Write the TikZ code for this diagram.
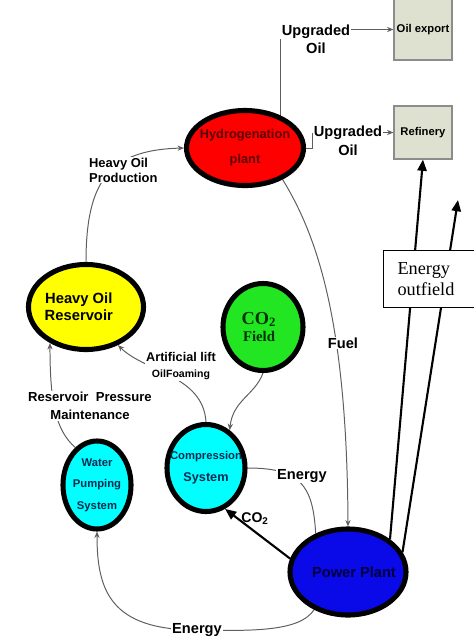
\documentclass[tikz,border=0pt]{standalone}
\usepackage{fontspec}
\setmainfont{Liberation Serif}
\setsansfont{Liberation Sans}
\usetikzlibrary{shapes.geometric}
\usetikzlibrary{arrows.meta}
\usetikzlibrary{backgrounds}
\definecolor{linkGray}{HTML}{5E5E5E}
\definecolor{boxFill}{HTML}{DEE1CF}
\definecolor{boxLine}{HTML}{8C8C8C}
\definecolor{hydRed}{HTML}{FF0000}
\definecolor{resYellow}{HTML}{FFFF00}
\definecolor{fieldGreen}{HTML}{22E622}
\definecolor{sysCyan}{HTML}{00FFFF}
\definecolor{plantBlue}{HTML}{0A0AE8}
\definecolor{hydText}{HTML}{5C0000}
\definecolor{fieldText}{HTML}{003300}
\definecolor{sysText}{HTML}{0A2A50}
\definecolor{plantText}{HTML}{00003C}

\begin{document}
\begin{tikzpicture}[%%
  x=0.025cm,y=-0.025cm,%%
  plantStyle/.style={ellipse,draw=black,line width=3.6pt,inner sep=0pt},%%
  inStyle/.style={align=center,inner sep=0pt},%%
  boxStyle/.style={rectangle,draw=boxLine,fill=boxFill,line width=0.8pt,inner sep=0pt,%%
    font=\fontsize{8}{9.6}\sffamily\bfseries},%%
  tagStyle/.style={fill=white,inner sep=0.6pt,align=center},%%
  flowStyle/.style={draw=linkGray,line width=0.7pt},%%
  flowArrow/.style={flowStyle,-{Stealth[length=1.6mm,width=1.3mm]}},%%
  heavyArrow/.style={draw=black,line width=1.5pt,-{Triangle[length=2.8mm,width=2.3mm]}},%%
]
%%
\useasboundingbox (0,0) rectangle (474,640);
%% The plants and fields.
\node[plantStyle,fill=hydRed,minimum width=2.925cm,minimum height=1.875cm,
  label={[inStyle,text=hydText,font=\fontsize{9.1}{17.8}\sffamily\bfseries]center:Hydrogenation\\plant}]
  (hyd) at (245,148) {};
\node[plantStyle,fill=resYellow,minimum width=2.875cm,minimum height=2.125cm,
  label={[inStyle,xshift=-0.18cm,font=\fontsize{10.5}{12.2}\sffamily\bfseries]center:Heavy Oil\\Reservoir}]
  (res) at (86,307) {};
\node[plantStyle,fill=fieldGreen,minimum width=2cm,minimum height=2.175cm,
  label={[inStyle,xshift=-0.1cm,text=fieldText,font=\fontsize{10.5}{12.5}\rmfamily\bfseries]center:{\fontsize{13}{14}\selectfont CO\textsubscript{2}}\\Field}]
  (co2Field) at (263,327) {};
\node[plantStyle,fill=sysCyan,minimum width=1.95cm,minimum height=2.175cm,
  label={[inStyle,text=sysText,font=\fontsize{9}{15.6}\sffamily\bfseries]center:{\fontsize{8}{9}\selectfont Compression}\\System}]
  (comp) at (206,468) {};
\node[plantStyle,fill=sysCyan,minimum width=1.7cm,minimum height=2.2cm,
  label={[inStyle,text=sysText,font=\fontsize{8}{15.3}\sffamily\bfseries]center:Water\\Pumping\\System}]
  (water) at (97,485) {};
\node[plantStyle,fill=plantBlue,minimum width=2.9cm,minimum height=2.15cm,
  label={[inStyle,xshift=0.15cm,text=plantText,font=\fontsize{10.4}{12.5}\sffamily\bfseries]center:Power Plant}]
  (power) at (348,572) {};
%% The two boxes for the upgraded oil.
\node[boxStyle,minimum width=1.45cm,minimum height=1.525cm] (oilExport) at (423,29.5) {Oil export};
\node[boxStyle,minimum width=1.45cm,minimum height=1.325cm] (refinery) at (423,132.5) {Refinery};
%% Labels of the flows.
\node[tagStyle,font=\fontsize{10.4}{12.8}\sffamily\bfseries] (upOne) at (316,39) {Upgraded\\Oil};
\node[tagStyle,font=\fontsize{10.4}{13.5}\sffamily\bfseries] (upTwo) at (348,141) {Upgraded\\Oil};
\node[tagStyle,align=left,anchor=west,font=\fontsize{9.2}{10.6}\sffamily\bfseries] (prodTag) at (88,170) {Heavy Oil\\Production};
\node[tagStyle,font=\fontsize{9}{12}\sffamily\bfseries] (liftTag) at (181,366) {Artificial lift\\{\fontsize{7.5}{9}\selectfont OilFoaming}};
\node[tagStyle,font=\fontsize{9.3}{12.8}\sffamily\bfseries] (pressTag) at (90,406) {Reservoir\ \ Pressure\\Maintenance};
\node[tagStyle,font=\fontsize{10.4}{12.5}\sffamily\bfseries] (fuelTag) at (343,343) {Fuel};
\node[tagStyle,font=\fontsize{10.4}{12.5}\sffamily\bfseries] (energyMid) at (302,476) {Energy};
\node[tagStyle,font=\fontsize{10}{12}\sffamily\bfseries] (co2Tag) at (255,519) {CO\textsubscript{2}};
\node[tagStyle,font=\fontsize{10.4}{12.5}\sffamily\bfseries] (energyLow) at (197,630) {Energy};
%% The thin flows, behind the nodes.
\begin{scope}[on background layer]
  \draw[flowStyle] (upOne.west |- hyd.center) -- (upOne.west);
  \draw[flowArrow] (upOne.east |- oilExport.west) -- (oilExport.west);
  \draw[flowStyle] (hyd.east) -| (upTwo.west |- refinery.west);
  \draw[flowArrow] (upTwo.east |- refinery.west) -- (refinery.west);
  \draw[flowArrow] (res.north) .. controls (86,180) and (110,150) .. (hyd.west);
  \draw[flowArrow] (comp.north) .. controls (203,375) and (145,372) .. (res.-50);
  \draw[flowArrow] (co2Field.south) .. controls (255,395) and (233,400) .. (comp.58);
  \draw[flowStyle] (comp.east) .. controls (300,468) and (313,485) .. (power.130);
  \draw[flowArrow] (hyd.-40) .. controls (320,240) and (347,330) .. (power.north);
  \draw[flowArrow] (water.120) .. controls (55,430) and (50,400) .. (res.225);
  \draw[flowArrow] (power.228) .. controls (300,632) and (250,631) .. (energyLow.center)
    .. controls (110,630) and (97,590) .. (water.south);
\end{scope}
%% The heavy flows of CO2 and of energy.
\draw[heavyArrow] (power.167) -- (comp.-65);
\draw[heavyArrow] (power.38) -- (refinery.south);
\coordinate (outTip) at (458,200);
\draw[heavyArrow] (power.20) -- (outTip);
%% The energy outfield box, over the heavy flows.
\node[draw=black,fill=white,line width=0.8pt,anchor=north west,align=left,text width=1.8cm,
  inner xsep=0.35cm,inner ysep=0pt,minimum height=1.425cm,font=\fontsize{13}{15.6}\rmfamily]
  (outfield) at (383,250) {Energy\\outfield};
\end{tikzpicture}
\end{document}
